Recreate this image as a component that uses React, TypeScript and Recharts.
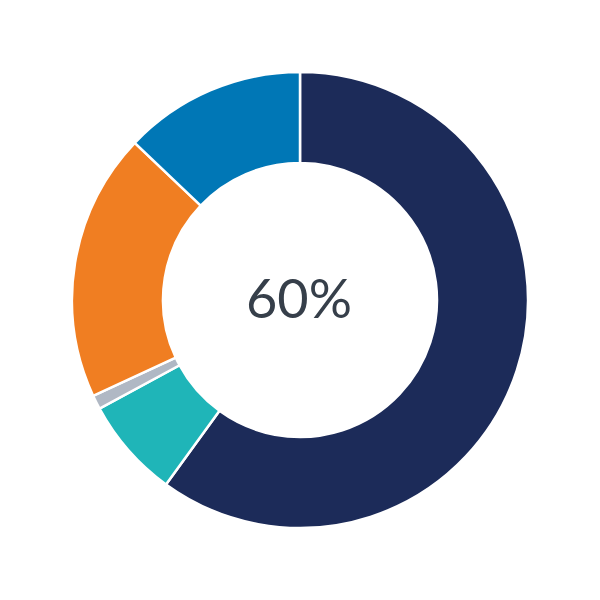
import { Cell, Pie, PieChart } from "recharts";

const categories = ["Navy", "Teal", "Grey", "Orange", "Blue"];
const values = [60, 7.1, 1, 19, 12.9];
const colors = ["#1c2b59", "#1fb5b8", "#b0b8c4", "#f07e22", "#0077b6"];
const centerLabel = "60%";

const data = categories.map((name, i) => ({ name, value: values[i] }));

export default function App() {
  return (
    <div style={{ position: "absolute", top: 0, left: 0, width: 600, height: 600, background: "#fff" }}>
      <PieChart width={600} height={600} margin={{ top: 0, right: 0, bottom: 0, left: 0 }}>
        <Pie
          data={data}
          dataKey="value"
          nameKey="name"
          cx={300}
          cy={300}
          innerRadius={137}
          outerRadius={228}
          startAngle={90}
          endAngle={-270}
          stroke="#ffffff"
          strokeWidth={2.5}
          isAnimationActive={false}
        >
          {data.map((d, i) => (
            <Cell key={d.name} fill={colors[i]} />
          ))}
        </Pie>
        <text
          x={299}
          y={297}
          textAnchor="middle"
          dominantBaseline="central"
          fontFamily="Lato, sans-serif"
          fontWeight={400}
          fontSize={54}
          fill="#363f4a"
        >
          {centerLabel}
        </text>
      </PieChart>
    </div>
  );
}
